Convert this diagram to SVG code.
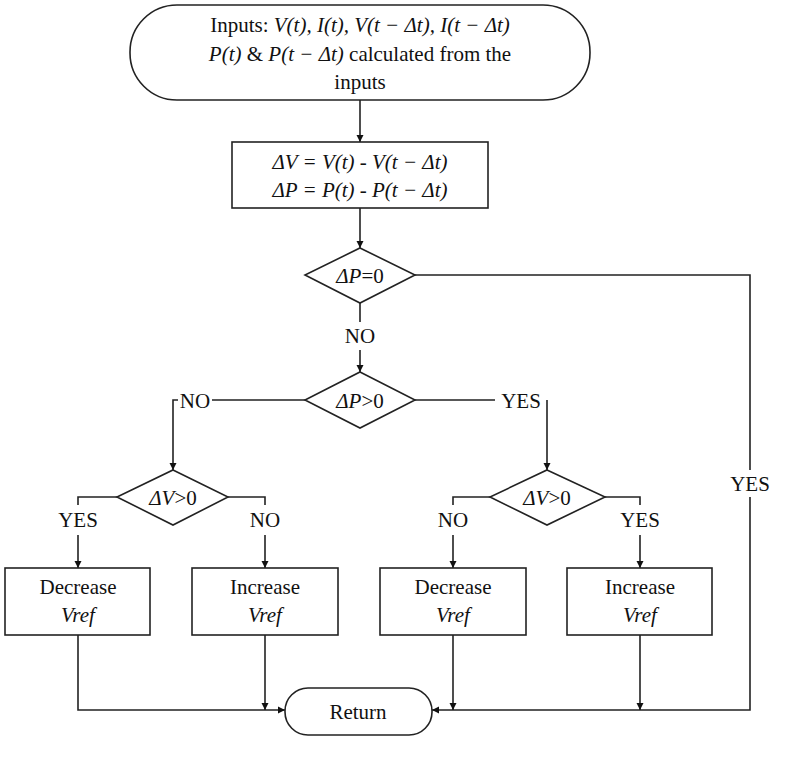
<svg xmlns="http://www.w3.org/2000/svg" width="785" height="760" viewBox="0 0 785 760">
<defs>
<marker id="a" viewBox="0 0 10 10" refX="10" refY="5" markerWidth="7" markerHeight="9" orient="auto" markerUnits="userSpaceOnUse"><path d="M0,0 L10,5 L0,10 z" fill="#111"/></marker>
<style>
.s{fill:#fff;stroke:#222;stroke-width:1.6}
.l{fill:none;stroke:#222;stroke-width:1.6}
text{font-family:"Liberation Serif","Times New Roman",serif;font-size:21px;fill:#111;text-anchor:middle}
.i{font-style:italic}
</style>
</defs>
<rect width="785" height="760" fill="#fff"/>
<g id="connectors">
<path class="l" d="M360,100 V142" marker-end="url(#a)"/>
<path class="l" d="M360,208 V248" marker-end="url(#a)"/>
<path class="l" d="M415,275 H750 V470 M750,497 V710 H432" marker-end="url(#a)"/>
<path class="l" d="M360,303 V322 M360,350 V372" marker-end="url(#a)"/>
<path class="l" d="M305,400 H212 M178,400 H173 V470" marker-end="url(#a)"/>
<path class="l" d="M415,400 H495 M547,400 V470" marker-end="url(#a)"/>
<path class="l" d="M117,497 H78 V505 M78,535 V568" marker-end="url(#a)"/>
<path class="l" d="M228,497 H265 V505 M265,535 V568" marker-end="url(#a)"/>
<path class="l" d="M490,497 H453 V505 M453,535 V568" marker-end="url(#a)"/>
<path class="l" d="M605,497 H640 V505 M640,535 V568" marker-end="url(#a)"/>
<path class="l" d="M78,635 V710 H285" marker-end="url(#a)"/>
<path class="l" d="M265,635 V710" marker-end="url(#a)"/>
<path class="l" d="M453,635 V710" marker-end="url(#a)"/>
<path class="l" d="M640,635 V710" marker-end="url(#a)"/>
<text x="360" y="343">NO</text>
<text x="195" y="408">NO</text>
<text x="521" y="408">YES</text>
<text x="750" y="491">YES</text>
<text x="78" y="527">YES</text>
<text x="265" y="527">NO</text>
<text x="453" y="527">NO</text>
<text x="640" y="527">YES</text>
</g>
<g id="start">
<rect class="s" x="130" y="5" width="460" height="95" rx="47"/>
<text x="360" y="32">Inputs: <tspan class="i">V(t), I(t), V(t − Δt), I(t − Δt)</tspan></text>
<text x="360" y="61"><tspan class="i">P(t)</tspan> &amp; <tspan class="i">P(t − Δt)</tspan>  calculated from the</text>
<text x="360" y="89">inputs</text>
</g>
<g id="calc">
<rect class="s" x="232" y="142" width="256" height="66"/>
<text x="360" y="169" class="i">ΔV = V(t) - V(t − Δt)</text>
<text x="360" y="197" class="i">ΔP = P(t) - P(t − Δt)</text>
</g>
<g id="d1"><path class="s" d="M360,248 L415,275 L360,303 L305,275 Z"/><text x="360" y="283"><tspan class="i">ΔP</tspan>=0</text></g>
<g id="d2"><path class="s" d="M360,372 L415,400 L360,428 L305,400 Z"/><text x="360" y="408"><tspan class="i">ΔP</tspan>&gt;0</text></g>
<g id="d3"><path class="s" d="M173,470 L228,497 L173,525 L117,497 Z"/><text x="173" y="505"><tspan class="i">ΔV</tspan>&gt;0</text></g>
<g id="d4"><path class="s" d="M547,470 L605,497 L547,525 L490,497 Z"/><text x="547" y="505"><tspan class="i">ΔV</tspan>&gt;0</text></g>
<g id="b1"><rect class="s" x="5" y="568" width="145" height="67"/><text x="78" y="594">Decrease</text><text x="78" y="622" class="i">Vref</text></g>
<g id="b2"><rect class="s" x="192" y="568" width="146" height="67"/><text x="265" y="594">Increase</text><text x="265" y="622" class="i">Vref</text></g>
<g id="b3"><rect class="s" x="380" y="568" width="146" height="67"/><text x="453" y="594">Decrease</text><text x="453" y="622" class="i">Vref</text></g>
<g id="b4"><rect class="s" x="567" y="568" width="145" height="67"/><text x="640" y="594">Increase</text><text x="640" y="622" class="i">Vref</text></g>
<g id="ret"><rect class="s" x="285" y="688" width="147" height="47" rx="23"/><text x="358" y="719">Return</text></g>
</svg>
